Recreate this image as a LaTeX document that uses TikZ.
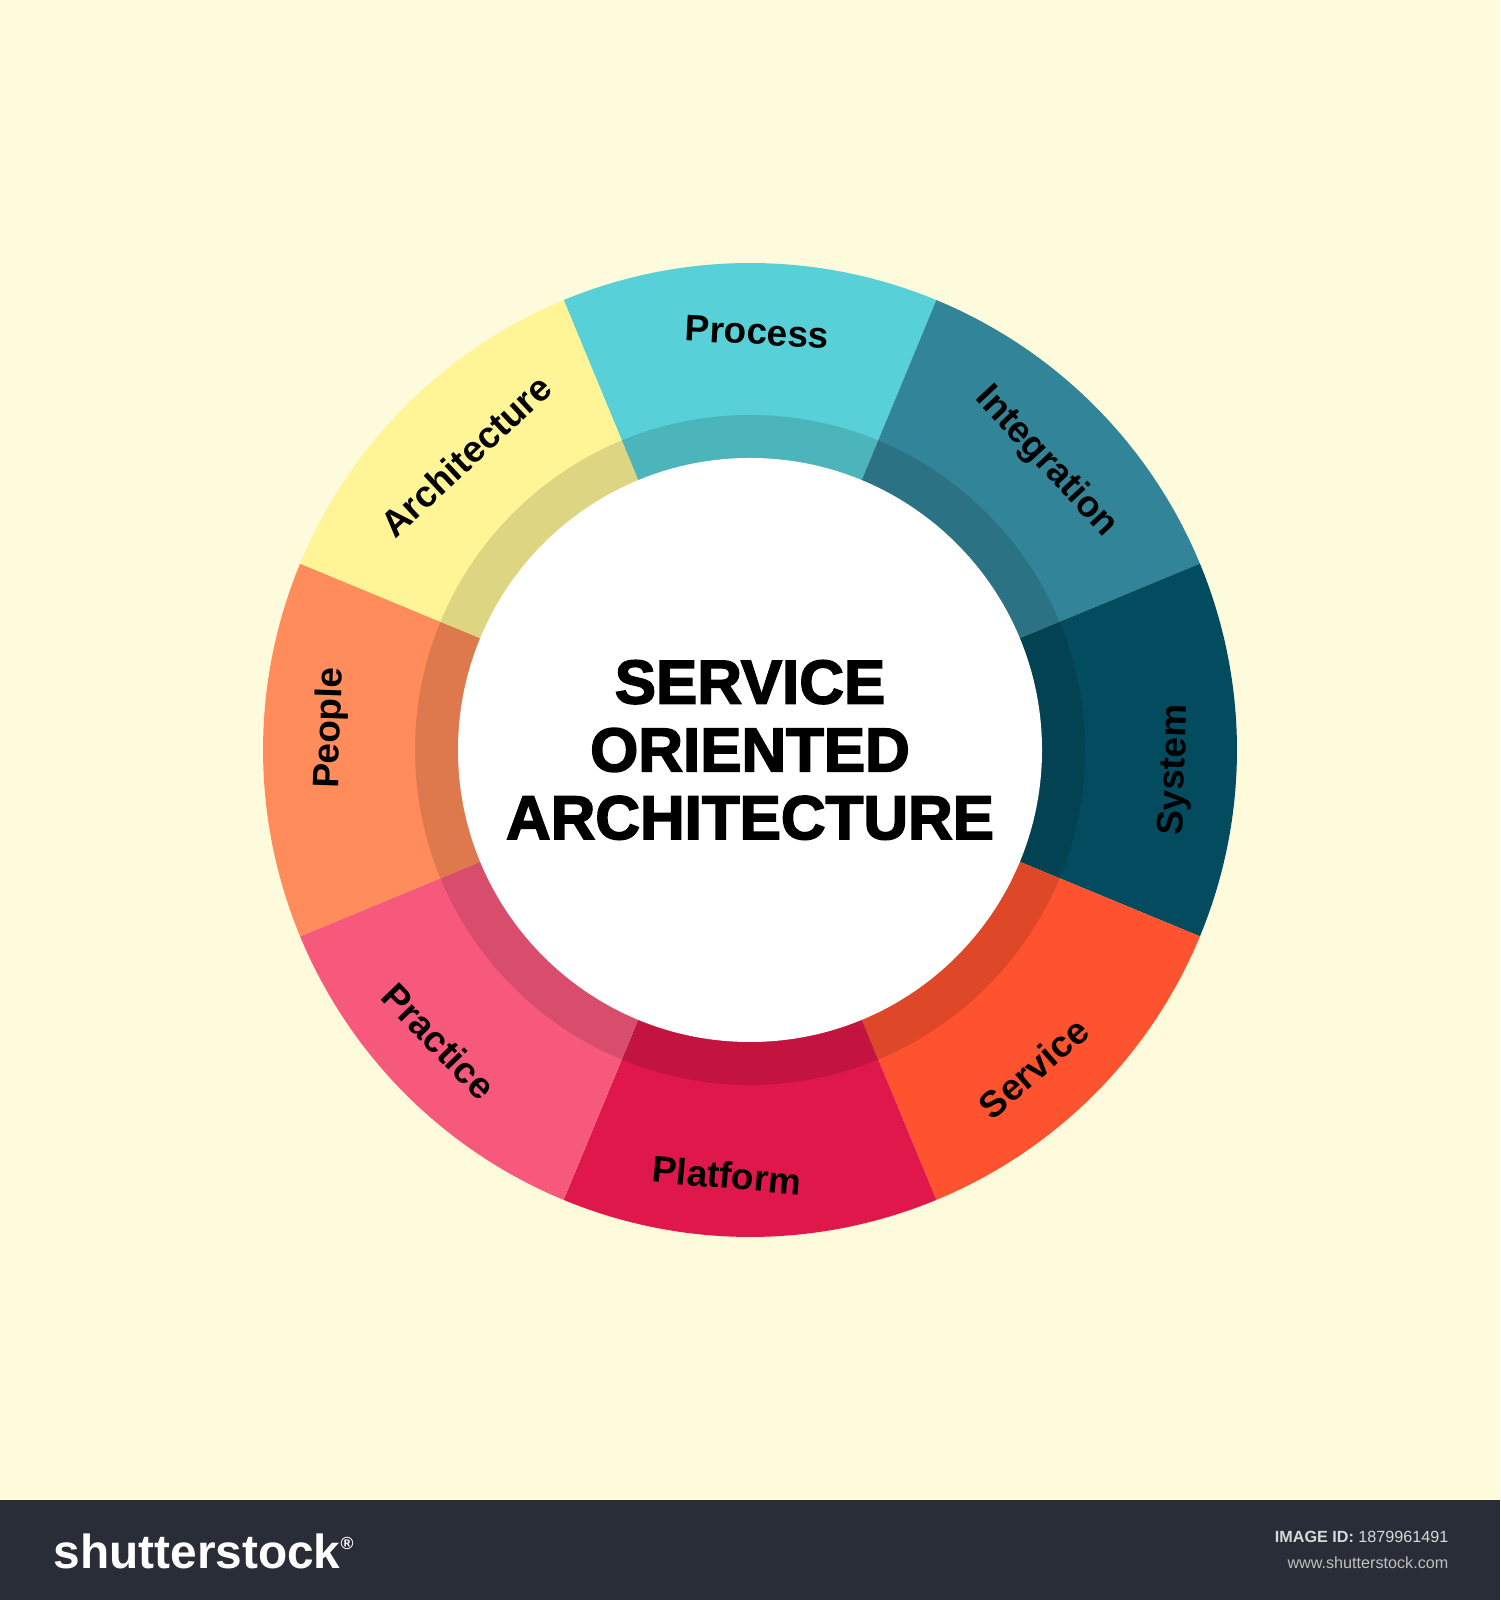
\documentclass[tikz,border=0pt]{standalone}
\usepackage{fontspec}
\setmainfont{Liberation Sans}
\newfontfamily\titlefont{Liberation Sans}[BoldFeatures={FakeBold=2.6}]
\definecolor{bgcream}{HTML}{FEFBDC}
\definecolor{barcol}{HTML}{282D38}
\definecolor{colProcess}{HTML}{58D0D8}
\definecolor{colIntegration}{HTML}{328598}
\definecolor{colSystem}{HTML}{034C60}
\definecolor{colService}{HTML}{FF5330}
\definecolor{colPlatform}{HTML}{E0174A}
\definecolor{colPractice}{HTML}{F7597C}
\definecolor{colPeople}{HTML}{FF8C5A}
\definecolor{colArchitecture}{HTML}{FFF597}
\tikzset{
  seglabel/.style={font=\fontsize{10.5}{12}\selectfont\bfseries, text=black, inner sep=0pt},
  title/.style={font=\titlefont\fontsize{17.6}{19.3}\selectfont\bfseries, align=center, inner sep=0pt},
}
\begin{document}
\begin{tikzpicture}[x=1cm,y=1cm]
		\def\rout{4.87} % outer radius
		\def\rband{3.35}
		\def\rin{2.92}
		\fill[bgcream] (0,0) rectangle (15,16);
		\useasboundingbox (0,0) rectangle (15,16);
		\begin{scope}[shift={(7.5,8.5)}]
		\foreach \a/\c in {90/colProcess,45/colIntegration,0/colSystem,-45/colService,-90/colPlatform,-135/colPractice,180/colPeople,135/colArchitecture}
			\fill[\c] (0,0) -- (\a-22.5:\rout) arc[start angle=\a-22.5,end angle=\a+22.5,radius=\rout] -- cycle;
		\fill[black,opacity=0.13] (0,0) circle (\rband);
		\fill[white] (0,0) circle (\rin);
		\node[seglabel,rotate=-3] (process) at (89:4.18) {Process};
		\node[seglabel,rotate=-47] (integration) at (44.2:4.13) {Integration};
		\node[seglabel,rotate=88] (system) at (-2.7:4.26) {System};
		\node[seglabel,rotate=41] (service) at (-48.3:4.26) {Service};
		\node[seglabel,rotate=-5] (platform) at (-93.1:4.26) {Platform};
		\node[seglabel,rotate=-46] (practice) at (-136.9:4.26) {Practice};
		\node[seglabel,rotate=88] (people) at (177:4.20) {People};
		\node[seglabel,rotate=43] (architecture) at (134:4.09) {Architecture};
		\node[title] (soa) at (0,0) {SERVICE\\ORIENTED\\ARCHITECTURE};
		\end{scope}
		% bottom bar
		\fill[barcol] (0,0) rectangle (15,1);
		\node[anchor=west,text=white,inner sep=0pt,font=\fontsize{13.6}{14}\selectfont\bfseries] (logo) at (0.53,0.49) {shutterstock\textsuperscript{\tiny\textregistered}};
		\node[anchor=east,text=white!85!black,inner sep=0pt,font=\fontsize{4.6}{5}\selectfont] (imgid) at (14.49,0.63) {\textbf{IMAGE ID:} 1879961491};
		\node[anchor=east,text=white!75!black,inner sep=0pt,font=\fontsize{4.6}{5}\selectfont] (www) at (14.49,0.37) {www.shutterstock.com};
\end{tikzpicture}
\end{document}
